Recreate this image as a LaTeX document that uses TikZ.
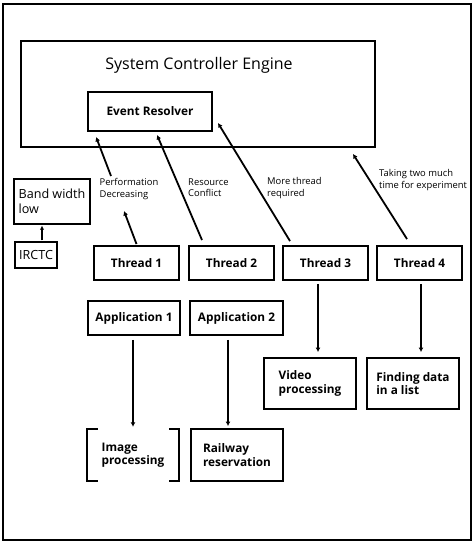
\documentclass[tikz,border=0pt]{standalone}
\usepackage{fontspec}
\setmainfont{Open Sans}
\usetikzlibrary{arrows.meta,calc}
\begin{document}
\begin{tikzpicture}[x=1pt,y=-1pt,
  box/.style={draw,line width=1.9pt,inner sep=0pt,font=\fontsize{11.8}{13.5}\selectfont\bfseries},
  thinbox/.style={draw,line width=1.4pt,inner sep=0pt,font=\fontsize{12.6}{14.5}\selectfont},
  lab/.style={inner sep=0pt,anchor=west,align=left,font=\fontsize{9.4}{11.2}\selectfont},
  arr/.style={line width=1.8pt,-{Latex[length=4.5pt,width=5pt]}},
  bracketline/.style={line width=1.9pt}
]
\useasboundingbox (0,0) rectangle (474,545);
\fill[white] (0,0) rectangle (474,545);
\draw[line width=2pt] (3,4) rectangle (471,540);

% system controller engine
\node[draw,line width=1.9pt,minimum width=354pt,minimum height=106pt] (sce) at (198,94) {};
\node[font=\fontsize{16}{18}\selectfont,inner sep=0pt] (scet) at (199,65) {System Controller Engine};
\node[box,minimum width=124pt,minimum height=39pt] (er) at (150,111.5) {Event Resolver};

% band width / IRCTC
\node[thinbox,minimum width=76pt,minimum height=45pt,align=left] (bw) at (52,201.5) {Band width\\low};
\node[thinbox,minimum width=42pt,minimum height=26pt] (irctc) at (36,255) {IRCTC};
\draw[line width=1.8pt,-{Latex[length=4pt,width=4.5pt]},shorten <=1pt,shorten >=1pt] ([xshift=6pt]irctc.north) -- ([xshift=6pt]irctc.north |- bw.south);

% threads
\node[box,minimum width=85pt,minimum height=34pt] (t1) at (136.5,263) {Thread 1};
\node[box,minimum width=85pt,minimum height=34pt] (t2) at (231.5,263) {Thread 2};
\node[box,minimum width=85pt,minimum height=34pt] (t3) at (325.5,263) {Thread 3};
\node[box,minimum width=85pt,minimum height=34pt] (t4) at (419.5,263) {Thread 4};

% labels
\node[lab] (l1) at (99.5,189) {Performation\\Decreasing};
\node[lab] (l2) at (188,188) {Resource\\Conflict};
\node[lab] (l3) at (267,188) {More thread\\required};
\node[lab] (l4) at (379,180) {Taking two much\\time for experiment};

% upward arrows
\coordinate (g1a) at (124,211);
\coordinate (g1b) at (111,176);
\draw[arr] ([yshift=1pt]t1.north) -- (g1a);
\draw[arr] (g1b) -- ([xshift=9pt,yshift=-5pt]er.south west);
\draw[arr] ([xshift=-29.5pt,yshift=5pt]t2.north) -- ([xshift=7pt,yshift=-3pt]er.south);
\draw[arr] ([xshift=-35.5pt,yshift=4pt]t3.north) -- ([xshift=5pt,yshift=9pt]er.south east);
\draw[arr] ([xshift=-12.5pt,yshift=6pt]t4.north) -- ([xshift=-23pt,yshift=-6pt]sce.south east);

% applications
\node[box,minimum width=92pt,minimum height=34pt] (a1) at (134,318) {Application 1};
\node[box,minimum width=93pt,minimum height=34pt] (a2) at (236.5,318) {Application 2};

% results
\node[box,minimum width=92pt,minimum height=51pt,align=left] (vp) at (310,383.5) {Video\\processing};
\node[box,minimum width=92pt,minimum height=51pt,align=left] (fd) at (413,383.5) {Finding data\\in a list};
\node[inner sep=0pt,minimum width=92pt,minimum height=52pt,align=left,font=\fontsize{11.8}{13.5}\selectfont\bfseries] (ip) at (133,455) {Image\\processing};
\node[box,minimum width=92pt,minimum height=52pt,align=left] (rr) at (237,455) {Railway\\reservation};

\draw[bracketline] ([xshift=11pt]ip.north west) -- (ip.north west) -- (ip.south west) -- ([xshift=11pt]ip.south west);
\draw[bracketline] ([xshift=-10pt]ip.north east) -- (ip.north east) -- (ip.south east) -- ([xshift=-10pt]ip.south east);

% downward arrows
\draw[arr,shorten <=3pt,shorten >=5pt] ([xshift=-7.5pt]t3.south) -- ([xshift=-7.5pt]t3.south |- vp.north);
\draw[arr,shorten <=3pt,shorten >=5pt] ([xshift=1.5pt]t4.south) -- ([xshift=1.5pt]t4.south |- fd.north);
\draw[arr,shorten <=4pt,shorten >=2pt] ([xshift=-1pt]a1.south) -- ([xshift=-1pt]a1.south |- ip.north);
\draw[arr,shorten <=4pt,shorten >=2pt] ([xshift=-8.5pt]a2.south) -- ([xshift=-8.5pt]a2.south |- rr.north);
\end{tikzpicture}
\end{document}
